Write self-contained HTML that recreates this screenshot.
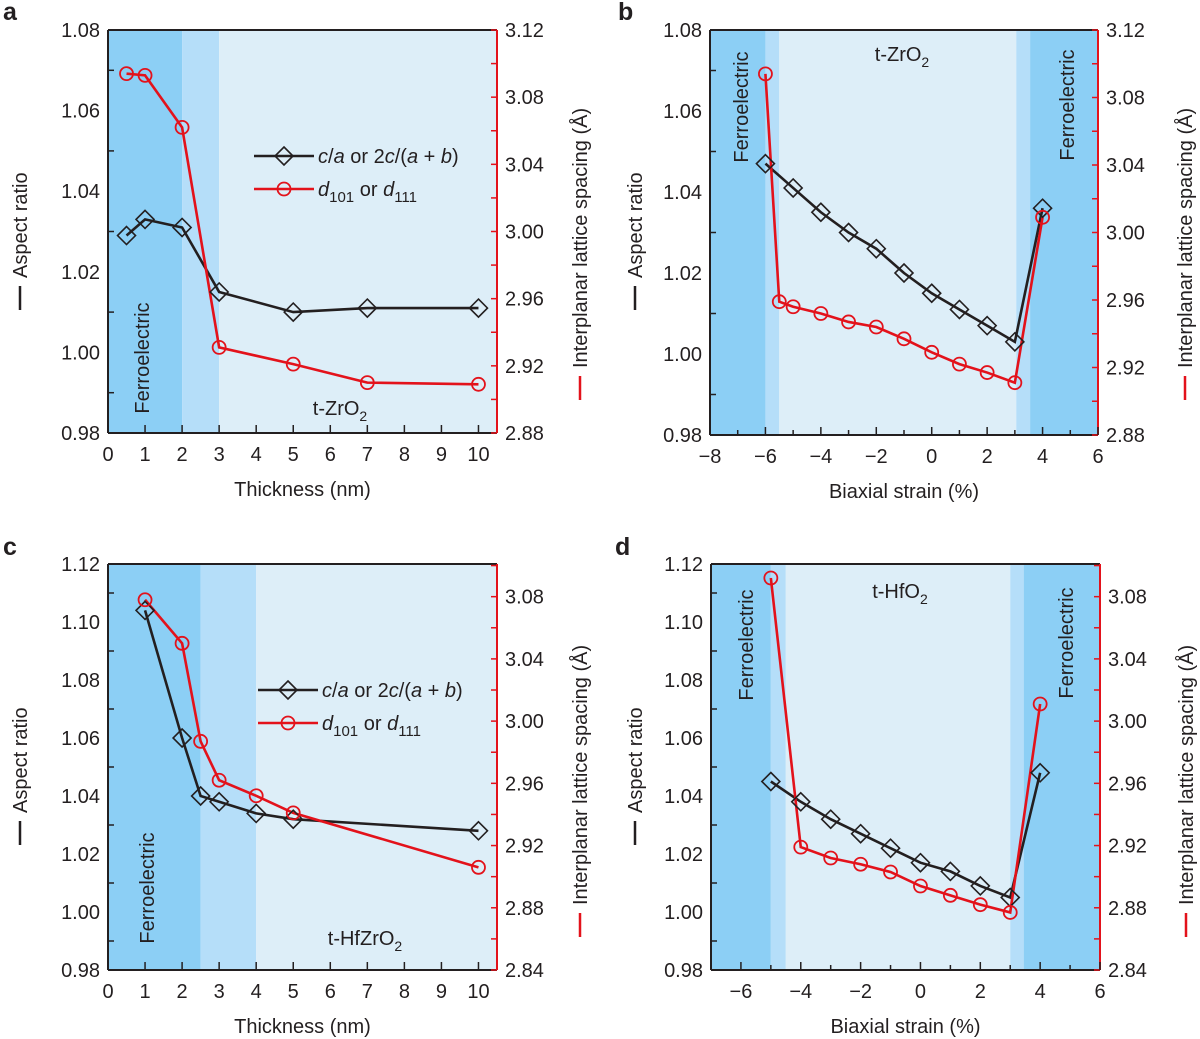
<!DOCTYPE html>
<html><head><meta charset="utf-8">
<style>
html,body{margin:0;padding:0;background:#fff;}
svg{display:block;font-family:"Liberation Sans",Arial,sans-serif;}
</style></head>
<body>
<svg id="fig" width="1200" height="1039" viewBox="0 0 1200 1039"></svg>
<script>
// ---- Data ----
const aX = [0.5, 1, 2, 3, 5, 7, 10];
const aAspect = [1.029, 1.033, 1.031, 1.015, 1.010, 1.011, 1.011];
const aSpacing = [3.094, 3.093, 3.062, 2.931, 2.921, 2.910, 2.909];

const bXAspect = [-6, -5, -4, -3, -2, -1, 0, 1, 2, 3, 4];
const bAspect = [1.047, 1.041, 1.035, 1.030, 1.026, 1.020, 1.015, 1.011, 1.007, 1.003, 1.036];
const bXSpacing = [-6, -5.5, -5, -4, -3, -2, -1, 0, 1, 2, 3, 4];
const bSpacing = [3.094, 2.959, 2.956, 2.952, 2.947, 2.944, 2.937, 2.929, 2.922, 2.917, 2.911, 3.009];

const cX = [1, 2, 2.5, 3, 4, 5, 10];
const cAspect = [1.104, 1.060, 1.040, 1.038, 1.034, 1.032, 1.028];
const cSpacing = [3.078, 3.050, 2.987, 2.962, 2.952, 2.941, 2.906];

const dX = [-5, -4, -3, -2, -1, 0, 1, 2, 3, 4];
const dAspect = [1.045, 1.038, 1.032, 1.027, 1.022, 1.017, 1.014, 1.009, 1.005, 1.048];
const dSpacing = [3.092, 2.919, 2.912, 2.908, 2.903, 2.894, 2.888, 2.882, 2.877, 3.011];

const abLeftTicks = ['0.98', '1.00', '1.02', '1.04', '1.06', '1.08'];
const abRightTicks = ['2.88', '2.92', '2.96', '3.00', '3.04', '3.08', '3.12'];
const cdLeftTicks = ['0.98', '1.00', '1.02', '1.04', '1.06', '1.08', '1.10', '1.12'];
const cdRightTicks = ['2.84', '2.88', '2.92', '2.96', '3.00', '3.04', '3.08'];
const thickTicks = [0, 1, 2, 3, 4, 5, 6, 7, 8, 9, 10];
const bStrainTicks = [-8, -6, -4, -2, 0, 2, 4, 6];
const dStrainTicks = [-6, -4, -2, 0, 2, 4, 6];

const NS = 'http://www.w3.org/2000/svg';
const svg = document.getElementById('fig');
const DARK = '#8ccff5', MED = '#b5def9', LIGHT = '#ddeef8', RED = '#e3121b', BLK = '#231f20';
const FS = 20;

function mk(tag, attrs, parent) {
  const e = document.createElementNS(NS, tag);
  for (const k in attrs) e.setAttribute(k, attrs[k]);
  (parent || svg).appendChild(e);
  return e;
}
function txt(s, x, y, size, parent, anchor, extra) {
  const t = mk('text', Object.assign({x: x, y: y, 'font-size': size, 'text-anchor': anchor || 'middle', fill: '#231f20'}, extra || {}), parent);
  t.innerHTML = s;
  return t;
}

function panel(cfg) {
  const g = mk('g', {});
  
  
  const L = cfg.L, R = cfg.R, T = cfg.T, B = cfg.B;
  const sx = v => L + (v - cfg.x0) / (cfg.x1 - cfg.x0) * (R - L);
  const syL = v => B - (v - cfg.yl0) / (cfg.yl1 - cfg.yl0) * (B - T);
  const syR = v => B - (v - cfg.yr0) / (cfg.yr1 - cfg.yr0) * (B - T);
  cfg.regions.forEach(r => {
    const rect = mk('rect', {x: sx(r[0]), y: T, width: sx(r[1]) - sx(r[0]), height: B - T, fill: r[2]}, g);
    
    
  });
  cfg.labels.forEach(l => {
    const t = txt(l.s, l.x, l.y, FS, g, 'middle', l.rot ? {transform: 'rotate(-90 ' + l.x + ' ' + l.y + ')'} : {});
    
    
  });
  const line = (xs, ys, sy, col) => mk('polyline', {points: xs.map((x, i) => sx(x) + ',' + sy(ys[i])).join(' '), fill: 'none', stroke: col, 'stroke-width': 2.6}, g);
  const bl = line(cfg.ax, cfg.ay, syL, BLK);
  
  
  const rl = line(cfg.rx, cfg.ry, syR, RED);
  
  
  cfg.ax.forEach((x, i) => {
    const cx = sx(x), cy = syL(cfg.ay[i]);
    const d = mk('polygon', {points: (cx) + ',' + (cy - 9) + ' ' + (cx + 9) + ',' + cy + ' ' + cx + ',' + (cy + 9) + ' ' + (cx - 9) + ',' + cy, fill: 'none', stroke: BLK, 'stroke-width': 1.6}, g);
    
    
  });
  cfg.rx.forEach((x, i) => {
    const c = mk('circle', {cx: sx(x), cy: syR(cfg.ry[i]), r: 6.5, fill: 'none', stroke: RED, 'stroke-width': 1.8}, g);
    
    
  });
  mk('line', {x1: L, y1: T, x2: R, y2: T, stroke: BLK, 'stroke-width': 2}, g);
  mk('line', {x1: L, y1: B, x2: R, y2: B, stroke: BLK, 'stroke-width': 2}, g);
  mk('line', {x1: L, y1: T, x2: L, y2: B, stroke: BLK, 'stroke-width': 2}, g);
  mk('line', {x1: R, y1: T, x2: R, y2: B, stroke: RED, 'stroke-width': 2}, g);
  const nl = cfg.lt.length;
  for (let i = 0; i < nl; i++) {
    const v = parseFloat(cfg.lt[i]);
    const y = syL(v);
    const t = txt(cfg.lt[i], L - 8, y + 7, FS, g, 'end');
    
    
    if (i < nl - 1) {
      const ym = syL(v + (parseFloat(cfg.lt[1]) - parseFloat(cfg.lt[0])) / 2);
      mk('line', {x1: L, y1: ym, x2: L + 6, y2: ym, stroke: BLK, 'stroke-width': 1.5}, g);
    }
  }
  const stepR = parseFloat(cfg.rt[1]) - parseFloat(cfg.rt[0]);
  cfg.rt.forEach((s, i) => {
    const v = parseFloat(s);
    const y = syR(v);
    mk('line', {x1: R - 6, y1: y, x2: R, y2: y, stroke: RED, 'stroke-width': 1.5}, g);
    const ym = syR(v + stepR / 2);
    if (ym >= T - 1) mk('line', {x1: R - 6, y1: ym, x2: R, y2: ym, stroke: RED, 'stroke-width': 1.5}, g);
    const t = txt(s, R + 8, y + 7, FS, g, 'start');
    
    
  });
  cfg.xt.forEach(v => {
    const x = sx(v);
    mk('line', {x1: x, y1: B - 8, x2: x, y2: B, stroke: BLK, 'stroke-width': 1.5}, g);
    if (cfg.xminor) {
      const xm = sx(v + cfg.xminor);
      if (xm < R - 2) mk('line', {x1: xm, y1: B - 5, x2: xm, y2: B, stroke: BLK, 'stroke-width': 1.5}, g);
    }
    const t = txt(v < 0 ? '\u2212' + (-v) : String(v), x, B + 28, FS, g);
    
    
  });
  const xt = txt(cfg.xtitle, (L + R) / 2, B + 63, FS, g);
  
  
  const lx = cfg.ltx, ly = cfg.lty;
  const lt = txt('Aspect ratio', lx, ly - 32, FS, g, 'start', {transform: 'rotate(-90 ' + lx + ' ' + (ly - 32) + ')'});
  
  
  mk('line', {x1: lx - 7, y1: ly - 24, x2: lx - 7, y2: ly, stroke: BLK, 'stroke-width': 2.5}, g);
  const rx = cfg.rtx, ry = cfg.rty;
  const rt = txt('Interplanar lattice spacing (\u00c5)', rx, ry - 32, FS, g, 'start', {transform: 'rotate(-90 ' + rx + ' ' + (ry - 32) + ')'});
  
  
  mk('line', {x1: rx - 7, y1: ry - 24, x2: rx - 7, y2: ry, stroke: RED, 'stroke-width': 2.5}, g);
  const pl = txt(cfg.letter, cfg.lx, cfg.ly, 25, g, 'start', {'font-weight': 'bold'});
  
  
  if (cfg.legend) {
    const lx0 = cfg.legend[0], ly0 = cfg.legend[1];
    const lg = mk('g', {}, g);
    
    
    mk('line', {x1: lx0, y1: ly0, x2: lx0 + 60, y2: ly0, stroke: BLK, 'stroke-width': 2.6}, lg);
    mk('polygon', {points: (lx0 + 30) + ',' + (ly0 - 9) + ' ' + (lx0 + 39) + ',' + ly0 + ' ' + (lx0 + 30) + ',' + (ly0 + 9) + ' ' + (lx0 + 21) + ',' + ly0, fill: 'none', stroke: BLK, 'stroke-width': 1.6}, lg);
    const e1 = txt('<tspan font-style="italic">c</tspan>/<tspan font-style="italic">a</tspan> or 2<tspan font-style="italic">c</tspan>/(<tspan font-style="italic">a</tspan> + <tspan font-style="italic">b</tspan>)', lx0 + 64, ly0 + 7, FS, lg, 'start');
    
    
    mk('line', {x1: lx0, y1: ly0 + 33, x2: lx0 + 60, y2: ly0 + 33, stroke: RED, 'stroke-width': 2.6}, lg);
    mk('circle', {cx: lx0 + 30, cy: ly0 + 33, r: 6.5, fill: 'none', stroke: RED, 'stroke-width': 1.8}, lg);
    const e2 = txt('<tspan font-style="italic">d</tspan><tspan font-size="15" dy="6">101</tspan><tspan dy="-6"> or </tspan><tspan font-style="italic">d</tspan><tspan font-size="15" dy="6">111</tspan>', lx0 + 64, ly0 + 40, FS, lg, 'start');
    
    
  }
}

panel({name: 'panel-a', letter: 'a', lx: 3, ly: 20, L: 108, R: 497, T: 30, B: 433,
  x0: 0, x1: 10.5, yl0: 0.98, yl1: 1.08, yr0: 2.88, yr1: 3.12,
  regions: [[0, 2, DARK], [2, 3, MED], [3, 10.5, LIGHT]],
  labels: [{s: 'Ferroelectric', x: 149, y: 358, rot: true}, {s: 't-ZrO<tspan font-size="14" dy="6">2</tspan>', x: 340, y: 415}],
  ax: aX, ay: aAspect, rx: aX, ry: aSpacing,
  lt: abLeftTicks, rt: abRightTicks, xt: thickTicks, xtitle: 'Thickness (nm)',
  ltx: 27, lty: 310, rtx: 587, rty: 400,
  legend: [254, 156]});

panel({name: 'panel-b', letter: 'b', lx: 618, ly: 20, L: 710, R: 1098, T: 30, B: 435,
  x0: -8, x1: 6, yl0: 0.98, yl1: 1.08, yr0: 2.88, yr1: 3.12,
  regions: [[-8, -6, DARK], [-6, -5.5, MED], [-5.5, 3.05, LIGHT], [3.05, 3.55, MED], [3.55, 6, DARK]],
  labels: [{s: 'Ferroelectric', x: 748, y: 107, rot: true}, {s: 'Ferroelectric', x: 1074, y: 105, rot: true}, {s: 't-ZrO<tspan font-size="14" dy="6">2</tspan>', x: 902, y: 61}],
  ax: bXAspect, ay: bAspect, rx: bXSpacing, ry: bSpacing,
  lt: abLeftTicks, rt: abRightTicks, xt: bStrainTicks, xminor: 1, xtitle: 'Biaxial strain (%)',
  ltx: 642, lty: 310, rtx: 1192, rty: 400});

panel({name: 'panel-c', letter: 'c', lx: 3, ly: 555, L: 108, R: 497, T: 564, B: 970,
  x0: 0, x1: 10.5, yl0: 0.98, yl1: 1.12, yr0: 2.84, yr1: 3.101,
  regions: [[0, 2.5, DARK], [2.5, 4, MED], [4, 10.5, LIGHT]],
  labels: [{s: 'Ferroelectric', x: 154, y: 888, rot: true}, {s: 't-HfZrO<tspan font-size="14" dy="6">2</tspan>', x: 365, y: 945}],
  ax: cX, ay: cAspect, rx: cX, ry: cSpacing,
  lt: cdLeftTicks, rt: cdRightTicks, xt: thickTicks, xtitle: 'Thickness (nm)',
  ltx: 27, lty: 845, rtx: 587, rty: 937,
  legend: [258, 690]});

panel({name: 'panel-d', letter: 'd', lx: 615, ly: 555, L: 711, R: 1100, T: 564, B: 970,
  x0: -7, x1: 6, yl0: 0.98, yl1: 1.12, yr0: 2.84, yr1: 3.101,
  regions: [[-7, -5, DARK], [-5, -4.5, MED], [-4.5, 3, LIGHT], [3, 3.45, MED], [3.45, 6, DARK]],
  labels: [{s: 'Ferroelectric', x: 753, y: 645, rot: true}, {s: 'Ferroelectric', x: 1073, y: 643, rot: true}, {s: 't-HfO<tspan font-size="14" dy="6">2</tspan>', x: 900, y: 598}],
  ax: dX, ay: dAspect, rx: dX, ry: dSpacing,
  lt: cdLeftTicks, rt: cdRightTicks, xt: dStrainTicks, xminor: 1, xtitle: 'Biaxial strain (%)',
  ltx: 642, lty: 845, rtx: 1193, rty: 937});
</script>
</body></html>
